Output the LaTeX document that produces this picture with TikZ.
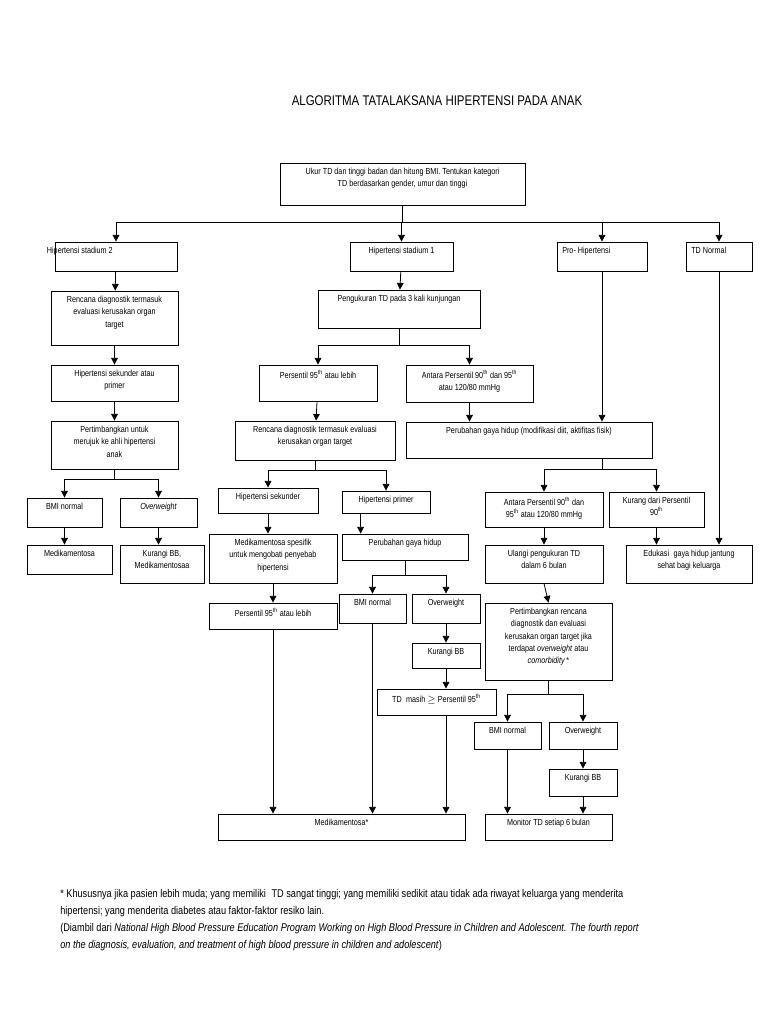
\documentclass[tikz,border=0pt]{standalone}
\usepackage{fontspec}
\setmainfont{Liberation Sans}[FakeStretch=0.82]
\usetikzlibrary{arrows.meta,fit,positioning}

\tikzset{
  box/.style={draw,inner sep=0pt,line width=0.6pt},
  lbl/.style={font=\fontsize{6.6}{9.2}\selectfont,align=center,anchor=north,inner sep=0pt},
  arr/.style={-{Triangle[length=5pt,width=5pt]},line width=0.6pt},
  ln/.style={line width=0.6pt}
}
% box: name, left, top, right, bottom, label options, text
\newcommand\bx[7]{%
  \node[box,fit={(#2,#3)(#4,#5)}] (#1) {};
  \node[lbl,#6] at ([yshift=-4pt]#1.north) {#7};}

\begin{document}
\begin{tikzpicture}[x=0.75pt,y=-0.75pt]
\useasboundingbox (0,0) rectangle (768,1024);
\node[font=\fontsize{10.5}{12}\selectfont] (title) at (437,101) {ALGORITMA TATALAKSANA HIPERTENSI PADA ANAK};

\bx{ukur}{280}{163}{525}{205}{}{Ukur TD dan tinggi badan dan hitung BMI. Tentukan kategori\\TD berdasarkan gender, umur dan tinggi}
\bx{st2}{55}{242}{177}{271}{anchor=north west,xshift=-52pt}{Hipertensi stadium 2}
\bx{st1}{350}{242}{453}{271}{}{Hipertensi stadium 1}
\bx{pro}{557}{242}{647}{271}{anchor=north west,xshift=-30pt}{Pro- Hipertensi}
\bx{norm}{686}{242}{752}{271}{anchor=north west,xshift=-21pt}{TD Normal}

% kiri
\bx{ren2}{51}{291}{178}{345}{}{Rencana diagnostik termasuk\\evaluasi kerusakan organ\\target}
\bx{sek}{51}{365}{178}{401}{}{Hipertensi sekunder atau\\primer}
\bx{per2}{51}{421}{178}{469}{}{Pertimbangkan untuk\\merujuk ke ahli hipertensi\\anak}
\bx{bmia}{27}{498}{102}{527}{}{BMI normal}
\bx{owa}{120}{498}{197}{527}{}{\itshape Overweight}
\bx{meda}{27}{545}{112}{574}{}{Medikamentosa}
\bx{kura}{120}{545}{204}{583}{}{Kurangi BB,\\Medikamentosaa}

% tengah
\bx{ukur3}{318}{290}{480}{328}{}{Pengukuran TD pada 3 kali kunjungan}
\bx{p95}{259}{365}{377}{401}{}{Persentil 95\textsuperscript{th} atau lebih}
\bx{ant1}{406}{365}{533}{402}{}{Antara Persentil 90\textsuperscript{th} dan 95\textsuperscript{th}\\atau 120/80 mmHg}
\bx{ren1}{235}{421}{395}{460}{}{Rencana diagnostik termasuk evaluasi\\kerusakan organ target}
\bx{sekb}{218}{488}{318}{513}{}{Hipertensi sekunder}
\bx{prim}{342}{491}{430}{513}{}{Hipertensi primer}
\bx{spes}{209}{534}{337}{583}{}{Medikamentosa spesifik\\untuk mengobati penyebab\\hipertensi}
\bx{gaya}{342}{534}{468}{560}{}{Perubahan gaya hidup}
\bx{p95b}{209}{603}{337}{629}{}{Persentil 95\textsuperscript{th} atau lebih}
\bx{bmib}{339}{594}{406}{623}{}{BMI normal}
\bx{owb}{412}{594}{480}{623}{}{Overweight}
\bx{kurb}{412}{643}{480}{668}{}{Kurangi BB}
\bx{masih}{377}{689}{496}{715}{}{TD\enspace masih $\geq$ Persentil 95\textsuperscript{th}}
\bx{medb}{218}{814}{465}{840}{}{Medikamentosa*}

% kanan
\bx{peru}{406}{422}{652}{458}{}{Perubahan gaya hidup (modifikasi diit, aktifitas fisik)}
\bx{ant2}{485}{492}{603}{527}{}{Antara Persentil 90\textsuperscript{th} dan\\95\textsuperscript{th} atau 120/80 mmHg}
\bx{kur90}{609}{492}{704}{527}{}{Kurang dari Persentil\\90\textsuperscript{th}}
\bx{ulang}{485}{545}{603}{583}{}{Ulangi pengukuran TD\\dalam 6 bulan}
\bx{edu}{626}{545}{752}{583}{}{Edukasi\enspace gaya hidup jantung\\sehat bagi keluarga}
\bx{pert}{485}{603}{612}{680}{}{Pertimbangkan rencana\\diagnostik dan evaluasi\\kerusakan organ target jika\\terdapat \textit{overweight} atau\\\textit{comorbidity}\,*}
\bx{bmic}{474}{722}{541}{749}{}{BMI normal}
\bx{owc}{549}{722}{617}{749}{}{Overweight}
\bx{kurc}{549}{769}{617}{796}{}{Kurangi BB}
\bx{mon}{485}{814}{612}{840}{}{Monitor TD setiap 6 bulan}

\coordinate (bus) at (0,222);
\draw[ln] (ukur.south) -- (ukur.south |- bus);
\foreach \t in {st2,st1,pro,norm}
  \draw[arr] (ukur.south |- bus) -| (\t.north);

\draw[arr] (st2) -- (ren2);
\draw[arr] (ren2) -- (sek);
\draw[arr] (sek) -- (per2);
\draw[ln] (per2.south) -- ++(0,10) coordinate (sa);
\draw[arr] (sa) -| (bmia.north);
\draw[arr] (sa) -| (owa.north);
\draw[arr] (bmia.south) -- (bmia.south |- meda.north);
\draw[arr] (owa.south) -- (owa.south |- kura.north);

\draw[arr] (st1) -- (ukur3);
\draw[ln] (ukur3.south) -- ++(0,17) coordinate (sb);
\draw[arr] (sb) -| (p95.north);
\draw[arr] (sb) -| (ant1.north);
\draw[arr] (p95) -- (ren1);
\draw[ln] (ren1.south) -- ++(0,10) coordinate (sc);
\draw[arr] (sc) -| (sekb.north);
\draw[arr] (sc) -| (prim.north);
\draw[arr] (sekb.south) -- (sekb.south |- spes.north);
\draw[arr] (prim.south -| gaya.west) ++(19,0) coordinate (pg) (prim.south -| pg) -- (gaya.north -| pg);
\draw[arr] (spes) -- (p95b);
\draw[ln] (gaya.south) -- ++(0,15) coordinate (sd);
\draw[arr] (sd) -| (bmib.north);
\draw[arr] (sd) -| (owb.north);
\draw[arr] (owb) -- (kurb);
\draw[arr] (kurb.south) -- (kurb.south |- masih.north);
\draw[arr] (p95b.south) -- (p95b.south |- medb.north);
\draw[arr] (bmib.south) -- (bmib.south |- medb.north);
\draw[arr] (masih.south -| kurb) -- (medb.north -| kurb);

\draw[arr] (ant1.south) -- (ant1.south |- peru.north);
\draw[arr] (pro.south) -- (pro.south |- peru.north);
\draw[ln] (peru.south -| pro) -- ++(0,11) coordinate (se);
\draw[arr] (se) -| (ant2.north);
\draw[arr] (se) -| (kur90.north);
\draw[arr] (ant2) -- (ulang);
\draw[arr] (kur90.south) -- (kur90.south |- edu.north);
\draw[arr] (norm.south) -- (norm.south |- edu.north);
\draw[arr] (ulang.south) -- (pert.north);
\draw[ln] (pert.south) -- ++(0,14) coordinate (sf);
\draw[arr] (sf) -| (bmic.north);
\draw[arr] (sf) -| (owc.north);
\draw[arr] (owc) -- (kurc);
\draw[arr] (kurc.south) -- (kurc.south |- mon.north);
\draw[arr] (bmic.south) -- (bmic.south |- mon.north);

\node[anchor=north west,align=left,inner sep=0pt,font=\fontsize{8.4}{12.8}\selectfont] (note) at (60,889)
 {* Khususnya jika pasien lebih muda; yang memiliki\enspace TD sangat tinggi; yang memiliki sedikit atau tidak ada riwayat keluarga yang menderita\\
 hipertensi; yang menderita diabetes atau faktor-faktor resiko lain.\\
 (Diambil dari \textit{National High Blood Pressure Education Program Working on High Blood Pressure in Children and Adolescent. The fourth report}\\
 \textit{on the diagnosis, evaluation, and treatment of high blood pressure in children and adolescent})};
\end{tikzpicture}
\end{document}
